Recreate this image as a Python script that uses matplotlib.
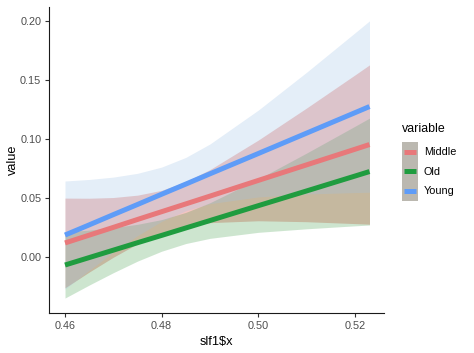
import matplotlib
matplotlib.use("Agg")
import matplotlib.pyplot as plt
from matplotlib.lines import Line2D
from matplotlib.patches import Rectangle

plt.rcParams['font.family'] = ['Liberation Sans', 'DejaVu Sans']

xs = [0.460, 0.465, 0.470, 0.475, 0.480, 0.485, 0.490, 0.500, 0.510, 0.520, 0.523]

groups = ['Middle', 'Old', 'Young']

middle_fit = [0.0119, 0.0185, 0.0251, 0.0318, 0.0384, 0.0450, 0.0516, 0.0649, 0.0781, 0.0913, 0.0953]
middle_lo = [-0.0261, -0.0128, -0.0002, 0.0112, 0.0203, 0.0261, 0.0291, 0.0307, 0.0299, 0.0283, 0.0278]
middle_hi = [0.0499, 0.0498, 0.0504, 0.0524, 0.0565, 0.0639, 0.0741, 0.0991, 0.1263, 0.1543, 0.1628]

old_fit = [-0.0068, -0.0005, 0.0058, 0.0121, 0.0183, 0.0246, 0.0309, 0.0435, 0.0560, 0.0686, 0.0724]
old_lo = [-0.0348, -0.0238, -0.0133, -0.0035, 0.0049, 0.0114, 0.0158, 0.0209, 0.0239, 0.0264, 0.0271]
old_hi = [0.0212, 0.0228, 0.0249, 0.0277, 0.0317, 0.0378, 0.0460, 0.0661, 0.0881, 0.1108, 0.1177]

young_fit = [0.0186, 0.0272, 0.0359, 0.0445, 0.0532, 0.0618, 0.0705, 0.0877, 0.1050, 0.1223, 0.1275]
young_lo = [-0.0272, -0.0113, 0.0041, 0.0181, 0.0302, 0.0392, 0.0452, 0.0509, 0.0534, 0.0546, 0.0549]
young_hi = [0.0644, 0.0657, 0.0677, 0.0709, 0.0762, 0.0844, 0.0958, 0.1245, 0.1566, 0.1900, 0.2001]

yticks = [0.00, 0.05, 0.10, 0.15, 0.20]
xticks = [0.46, 0.48, 0.50, 0.52]

fits = [middle_fit, old_fit, young_fit]
los = [middle_lo, old_lo, young_lo]
his = [middle_hi, old_hi, young_hi]
fill_cols = ['#E5766D', '#1E8C28', '#9FC2E6']
fill_alpha = [0.42, 0.22, 0.28]
line_cols = ['#E8787A', '#1F9C3F', '#5E9CF8']


class KeyHandler(object):
    # grey key background with a short coloured line on top (ggplot style)
    def legend_artist(self, legend, orig_handle, fontsize, handlebox):
        x0, y0 = -handlebox.xdescent, -handlebox.ydescent
        w, h = handlebox.width, handlebox.height
        tr = handlebox.get_transform()
        bg = Rectangle((x0, y0), w, h, facecolor='#BBB8B0', edgecolor='none', transform=tr)
        ln = Line2D([x0 + 0.12 * w, x0 + 0.88 * w], [y0 + h / 2, y0 + h / 2],
                    color=orig_handle.get_color(), lw=3.6, solid_capstyle='butt', transform=tr)
        handlebox.add_artist(bg)
        handlebox.add_artist(ln)
        return bg


fig = plt.figure(figsize=(4.74, 3.53), dpi=100)
ax = fig.add_axes([49 / 474, 1 - 313 / 353, (384 - 49) / 474, (313 - 7) / 353])

for i in range(3):
    ax.fill_between(xs, los[i], his[i], color=fill_cols[i], alpha=fill_alpha[i],
                    linewidth=0, zorder=1 + i)
for i in range(3):
    ax.plot(xs, fits[i], color=line_cols[i], lw=3.6, solid_capstyle='butt', zorder=5)

ax.set_xlim(0.45669, 0.52600)
ax.set_ylim(-0.04746, 0.21186)
ax.set_xticks(xticks)
ax.set_xticklabels(['%.2f' % v for v in xticks])
ax.set_yticks(yticks)
ax.set_yticklabels(['%.2f' % v for v in yticks])

for s in ['top', 'right']:
    ax.spines[s].set_visible(False)
for s in ['left', 'bottom']:
    ax.spines[s].set_color('#1a1a1a')
    ax.spines[s].set_linewidth(0.8)
ax.tick_params(axis='both', length=3, width=0.8, color='#333333',
               labelcolor='#4D4D4D', labelsize=7.8, pad=2.5)

ax.set_xlabel('slf1$x', fontsize=9.2, color='black', labelpad=4)
ax.set_ylabel('value', fontsize=9.2, color='black', labelpad=1)

handles = [Line2D([], [], color=c) for c in line_cols]
leg = fig.legend(handles, groups, handler_map={Line2D: KeyHandler()},
                 loc='upper left', bbox_to_anchor=(402 / 474, 1 - 123 / 353),
                 frameon=False, fontsize=7.8, title='variable', title_fontsize=8.9,
                 handlelength=1.45, handleheight=2.4, labelspacing=0,
                 handletextpad=0.55, borderpad=0, borderaxespad=0, alignment='left')
leg._legend_box.sep = 5

fig.savefig('out.png', dpi=100)
